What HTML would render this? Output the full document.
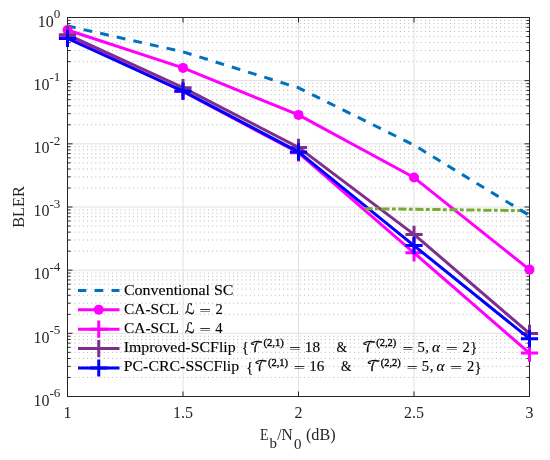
<!DOCTYPE html>
<html><head><meta charset="utf-8"><style>html,body{margin:0;padding:0;background:#fff;}svg{display:block;}.tk{font-family:"Liberation Serif","DejaVu Serif",serif;fill:#262626;}.lg{font-family:"Liberation Serif","DejaVu Serif",serif;fill:#000;}.m{font-family:"DejaVu Math TeX Gyre","Liberation Serif","DejaVu Serif",serif;}</style></head><body>
<svg width="550" height="460" viewBox="0 0 550 460">
<rect width="550" height="460" fill="#fff"/>
<g>
<path d="M67.50 61.65H529.50M67.50 50.53H529.50M67.50 42.64H529.50M67.50 36.52H529.50M67.50 31.51H529.50M67.50 27.28H529.50M67.50 23.62H529.50M67.50 20.39H529.50M67.50 124.82H529.50M67.50 113.70H529.50M67.50 105.80H529.50M67.50 99.68H529.50M67.50 94.68H529.50M67.50 90.45H529.50M67.50 86.79H529.50M67.50 83.56H529.50M67.50 187.98H529.50M67.50 176.86H529.50M67.50 168.97H529.50M67.50 162.85H529.50M67.50 157.85H529.50M67.50 153.62H529.50M67.50 149.95H529.50M67.50 146.72H529.50M67.50 251.15H529.50M67.50 240.03H529.50M67.50 232.14H529.50M67.50 226.02H529.50M67.50 221.01H529.50M67.50 216.78H529.50M67.50 213.12H529.50M67.50 209.89H529.50M67.50 314.32H529.50M67.50 303.20H529.50M67.50 295.30H529.50M67.50 289.18H529.50M67.50 284.18H529.50M67.50 279.95H529.50M67.50 276.29H529.50M67.50 273.06H529.50M67.50 377.48H529.50M67.50 366.36H529.50M67.50 358.47H529.50M67.50 352.35H529.50M67.50 347.35H529.50M67.50 343.12H529.50M67.50 339.45H529.50M67.50 336.22H529.50" stroke="#b8b8b8" stroke-width="1" stroke-dasharray="1 3.172" stroke-dashoffset="1.344" fill="none"/>
<path d="M67.50 80.67H529.50M67.50 143.83H529.50M67.50 207.00H529.50M67.50 270.17H529.50M67.50 333.33H529.50M183.00 17.50V396.50M298.50 17.50V396.50M414.00 17.50V396.50" stroke="#e0e0e0" stroke-width="1" fill="none"/>
<path d="M67.50 396.50v-5M67.50 17.50v5M183.00 396.50v-5M183.00 17.50v5M298.50 396.50v-5M298.50 17.50v5M414.00 396.50v-5M414.00 17.50v5M529.50 396.50v-5M529.50 17.50v5M67.50 17.50h5M529.50 17.50h-5M67.50 80.67h5M529.50 80.67h-5M67.50 143.83h5M529.50 143.83h-5M67.50 207.00h5M529.50 207.00h-5M67.50 270.17h5M529.50 270.17h-5M67.50 333.33h5M529.50 333.33h-5M67.50 396.50h5M529.50 396.50h-5M67.50 61.65h3M529.50 61.65h-3M67.50 50.53h3M529.50 50.53h-3M67.50 42.64h3M529.50 42.64h-3M67.50 36.52h3M529.50 36.52h-3M67.50 31.51h3M529.50 31.51h-3M67.50 27.28h3M529.50 27.28h-3M67.50 23.62h3M529.50 23.62h-3M67.50 20.39h3M529.50 20.39h-3M67.50 124.82h3M529.50 124.82h-3M67.50 113.70h3M529.50 113.70h-3M67.50 105.80h3M529.50 105.80h-3M67.50 99.68h3M529.50 99.68h-3M67.50 94.68h3M529.50 94.68h-3M67.50 90.45h3M529.50 90.45h-3M67.50 86.79h3M529.50 86.79h-3M67.50 83.56h3M529.50 83.56h-3M67.50 187.98h3M529.50 187.98h-3M67.50 176.86h3M529.50 176.86h-3M67.50 168.97h3M529.50 168.97h-3M67.50 162.85h3M529.50 162.85h-3M67.50 157.85h3M529.50 157.85h-3M67.50 153.62h3M529.50 153.62h-3M67.50 149.95h3M529.50 149.95h-3M67.50 146.72h3M529.50 146.72h-3M67.50 251.15h3M529.50 251.15h-3M67.50 240.03h3M529.50 240.03h-3M67.50 232.14h3M529.50 232.14h-3M67.50 226.02h3M529.50 226.02h-3M67.50 221.01h3M529.50 221.01h-3M67.50 216.78h3M529.50 216.78h-3M67.50 213.12h3M529.50 213.12h-3M67.50 209.89h3M529.50 209.89h-3M67.50 314.32h3M529.50 314.32h-3M67.50 303.20h3M529.50 303.20h-3M67.50 295.30h3M529.50 295.30h-3M67.50 289.18h3M529.50 289.18h-3M67.50 284.18h3M529.50 284.18h-3M67.50 279.95h3M529.50 279.95h-3M67.50 276.29h3M529.50 276.29h-3M67.50 273.06h3M529.50 273.06h-3M67.50 377.48h3M529.50 377.48h-3M67.50 366.36h3M529.50 366.36h-3M67.50 358.47h3M529.50 358.47h-3M67.50 352.35h3M529.50 352.35h-3M67.50 347.35h3M529.50 347.35h-3M67.50 343.12h3M529.50 343.12h-3M67.50 339.45h3M529.50 339.45h-3M67.50 336.22h3M529.50 336.22h-3" stroke="#262626" stroke-width="1" fill="none"/>
<rect x="67.5" y="17.5" width="462.0" height="379.0" fill="none" stroke="#262626" stroke-width="1"/>
<defs><clipPath id="cr"><rect x="512" y="195" width="30" height="30"/></clipPath></defs>
<g>
<polyline points="67.50,26.00 183.00,51.80 298.50,87.80 414.00,145.10 529.50,215.50" fill="none" stroke="#0072bd" stroke-width="3.0" stroke-linejoin="round" stroke-dasharray="8.8 8.2" stroke-dashoffset="0.5" stroke-linecap="butt"/>
<polyline points="67.50,30.00 183.00,67.90 298.50,114.90 414.00,177.55 529.50,269.60" fill="none" stroke="#ff00ff" stroke-width="3.0" stroke-linejoin="round" />
<circle cx="67.50" cy="30.00" r="5.0" fill="#ff00ff"/><circle cx="183.00" cy="67.90" r="5.0" fill="#ff00ff"/><circle cx="298.50" cy="114.90" r="5.0" fill="#ff00ff"/><circle cx="414.00" cy="177.55" r="5.0" fill="#ff00ff"/><circle cx="529.50" cy="269.60" r="5.0" fill="#ff00ff"/>
<polyline points="67.50,36.80 183.00,91.50 298.50,152.80 414.00,252.80 529.50,353.10" fill="none" stroke="#ff00ff" stroke-width="3.0" stroke-linejoin="round" />
<path d="M58.90 36.80H76.10M67.50 28.20V45.40" stroke="#ff00ff" stroke-width="3.0" fill="none"/><path d="M174.40 91.50H191.60M183.00 82.90V100.10" stroke="#ff00ff" stroke-width="3.0" fill="none"/><path d="M289.90 152.80H307.10M298.50 144.20V161.40" stroke="#ff00ff" stroke-width="3.0" fill="none"/><path d="M405.40 252.80H422.60M414.00 244.20V261.40" stroke="#ff00ff" stroke-width="3.0" fill="none"/><path d="M520.90 353.10H538.10M529.50 344.50V361.70" stroke="#ff00ff" stroke-width="3.0" fill="none"/>
<polyline points="67.50,34.70 183.00,87.70 298.50,147.40 414.00,234.40 529.50,333.40" fill="none" stroke="#7e2f8e" stroke-width="3.0" stroke-linejoin="round" />
<path d="M58.90 34.70H76.10M67.50 26.10V43.30" stroke="#7e2f8e" stroke-width="3.0" fill="none"/><path d="M174.40 87.70H191.60M183.00 79.10V96.30" stroke="#7e2f8e" stroke-width="3.0" fill="none"/><path d="M289.90 147.40H307.10M298.50 138.80V156.00" stroke="#7e2f8e" stroke-width="3.0" fill="none"/><path d="M405.40 234.40H422.60M414.00 225.80V243.00" stroke="#7e2f8e" stroke-width="3.0" fill="none"/><path d="M520.90 333.40H538.10M529.50 324.80V342.00" stroke="#7e2f8e" stroke-width="3.0" fill="none"/>
<polyline points="67.50,38.50 183.00,91.10 298.50,151.90 414.00,245.60 529.50,338.70" fill="none" stroke="#0000ff" stroke-width="3.0" stroke-linejoin="round" />
<path d="M58.90 38.50H76.10M67.50 29.90V47.10" stroke="#0000ff" stroke-width="3.0" fill="none"/><path d="M174.40 91.10H191.60M183.00 82.50V99.70" stroke="#0000ff" stroke-width="3.0" fill="none"/><path d="M289.90 151.90H307.10M298.50 143.30V160.50" stroke="#0000ff" stroke-width="3.0" fill="none"/><path d="M405.40 245.60H422.60M414.00 237.00V254.20" stroke="#0000ff" stroke-width="3.0" fill="none"/><path d="M520.90 338.70H538.10M529.50 330.10V347.30" stroke="#0000ff" stroke-width="3.0" fill="none"/>
<path d="M364.8 208.7L521 210.6" stroke="#77ac30" stroke-width="3.0" stroke-dasharray="8.2 2.5 3.7 2.6" stroke-dashoffset="0.5" fill="none"/>
<g clip-path="url(#cr)"><polyline points="67.50,26.00 183.00,51.80 298.50,87.80 414.00,145.10 529.50,215.50" fill="none" stroke="#0072bd" stroke-width="3.0" stroke-linejoin="round" stroke-dasharray="8.8 8.2" stroke-dashoffset="0.5" stroke-linecap="butt"/>
</g>
</g>
<text class="tk" transform="translate(60.4 26.70) scale(0.975 1)" font-size="16.4" text-anchor="end">10<tspan font-size="13.5" dy="-8.5">0</tspan></text>
<text class="tk" transform="translate(60.4 89.87) scale(0.975 1)" font-size="16.4" text-anchor="end">10<tspan font-size="13.5" dy="-8.5">-1</tspan></text>
<text class="tk" transform="translate(60.4 153.03) scale(0.975 1)" font-size="16.4" text-anchor="end">10<tspan font-size="13.5" dy="-8.5">-2</tspan></text>
<text class="tk" transform="translate(60.4 216.20) scale(0.975 1)" font-size="16.4" text-anchor="end">10<tspan font-size="13.5" dy="-8.5">-3</tspan></text>
<text class="tk" transform="translate(60.4 279.37) scale(0.975 1)" font-size="16.4" text-anchor="end">10<tspan font-size="13.5" dy="-8.5">-4</tspan></text>
<text class="tk" transform="translate(60.4 342.53) scale(0.975 1)" font-size="16.4" text-anchor="end">10<tspan font-size="13.5" dy="-8.5">-5</tspan></text>
<text class="tk" transform="translate(60.4 405.70) scale(0.975 1)" font-size="16.4" text-anchor="end">10<tspan font-size="13.5" dy="-8.5">-6</tspan></text>
<text class="tk" transform="translate(67.50 418.4) scale(0.975 1)" font-size="16.4" text-anchor="middle">1</text>
<text class="tk" transform="translate(183.00 418.4) scale(0.975 1)" font-size="16.4" text-anchor="middle">1.5</text>
<text class="tk" transform="translate(298.50 418.4) scale(0.975 1)" font-size="16.4" text-anchor="middle">2</text>
<text class="tk" transform="translate(414.00 418.4) scale(0.975 1)" font-size="16.4" text-anchor="middle">2.5</text>
<text class="tk" transform="translate(529.50 418.4) scale(0.975 1)" font-size="16.4" text-anchor="middle">3</text>
<text transform="translate(260.08 440.00) scale(0.7933 1)" font-family='"Liberation Serif","DejaVu Serif",serif' font-size="17.6" fill="#262626">E</text>
<text transform="translate(269.40 448.30) scale(1.0000 1)" font-family='"Liberation Serif","DejaVu Serif",serif' font-size="14.9" fill="#262626">b</text>
<text transform="translate(277.30 440.00) scale(0.8835 1)" font-family='"Liberation Serif","DejaVu Serif",serif' font-size="17.6" fill="#262626">/N</text>
<text transform="translate(293.88 448.60) scale(1.0000 1)" font-family='"Liberation Serif","DejaVu Serif",serif' font-size="14.9" fill="#262626">0</text>
<text transform="translate(305.97 440.00) scale(0.9215 1)" font-family='"Liberation Serif","DejaVu Serif",serif' font-size="17.6" fill="#262626">(dB)</text>
<text class="tk" x="0" y="0" font-size="17" text-anchor="middle" transform="translate(24.1 207) rotate(-90) scale(0.96 1)">BLER</text>
<path d="M78 290.4H119.5" stroke="#0072bd" stroke-width="3.0" stroke-dasharray="8.8 8.2" stroke-dashoffset="0.5" stroke-linecap="butt" fill="none"/>
<path d="M78 309.8H119.5" stroke="#ff00ff" stroke-width="3.0" fill="none"/><circle cx="98.75" cy="309.8" r="5.0" fill="#ff00ff"/>
<path d="M78 329.2H119.5" stroke="#ff00ff" stroke-width="3.0" fill="none"/><path d="M90.15 329.20H107.35M98.75 320.60V337.80" stroke="#ff00ff" stroke-width="3.0" fill="none"/>
<path d="M78 348.6H119.5" stroke="#7e2f8e" stroke-width="3.0" fill="none"/><path d="M90.15 348.60H107.35M98.75 340.00V357.20" stroke="#7e2f8e" stroke-width="3.0" fill="none"/>
<path d="M78 368.0H119.5" stroke="#0000ff" stroke-width="3.0" fill="none"/><path d="M90.15 368.00H107.35M98.75 359.40V376.60" stroke="#0000ff" stroke-width="3.0" fill="none"/>
<g>
<text transform="translate(123.96 294.90) scale(1.0941 1)" font-family='"Liberation Serif","DejaVu Serif",serif' font-size="14.6" fill="#000" stroke="#000" stroke-width="0.12">Conventional SC</text>
<text transform="translate(123.98 313.90) scale(1.0586 1)" font-family='"Liberation Serif","DejaVu Serif",serif' font-size="14.6" fill="#000" stroke="#000" stroke-width="0.12">CA-SCL</text>
<text transform="translate(185.07 313.90) scale(0.9132 1)" font-family='"DejaVu Sans","DejaVu Math TeX Gyre",sans-serif' font-size="14.6" fill="#000" stroke="#000" stroke-width="0.2">ℒ</text>
<text transform="translate(199.49 315.20) scale(1.5550 1)" font-family='"Liberation Serif","DejaVu Serif",serif' font-size="13" fill="#000" stroke="#000" stroke-width="0.12">=</text>
<text transform="translate(215.47 313.90) scale(1.0000 1)" font-family='"Liberation Serif","DejaVu Serif",serif' font-size="14.6" fill="#000" stroke="#000" stroke-width="0.12">2</text>
<text transform="translate(123.98 332.60) scale(1.0586 1)" font-family='"Liberation Serif","DejaVu Serif",serif' font-size="14.6" fill="#000" stroke="#000" stroke-width="0.12">CA-SCL</text>
<text transform="translate(185.07 332.60) scale(0.9132 1)" font-family='"DejaVu Sans","DejaVu Math TeX Gyre",sans-serif' font-size="14.6" fill="#000" stroke="#000" stroke-width="0.2">ℒ</text>
<text transform="translate(199.49 333.90) scale(1.5550 1)" font-family='"Liberation Serif","DejaVu Serif",serif' font-size="13" fill="#000" stroke="#000" stroke-width="0.12">=</text>
<text transform="translate(215.36 332.60) scale(1.0000 1)" font-family='"Liberation Serif","DejaVu Serif",serif' font-size="14.6" fill="#000" stroke="#000" stroke-width="0.12">4</text>
<text transform="translate(123.64 351.60) scale(1.0873 1)" font-family='"Liberation Serif","DejaVu Serif",serif' font-size="14.6" fill="#000" stroke="#000" stroke-width="0.12">Improved-SCFlip</text>
<text transform="translate(241.80 352.20) scale(1.0000 1)" font-family='"Liberation Serif","DejaVu Serif",serif' font-size="14.6" fill="#000" stroke="#000" stroke-width="0.12">{</text>
<text transform="translate(249.99 351.60) scale(0.8660 1)" font-family='"DejaVu Math TeX Gyre","DejaVu Serif","Liberation Serif",serif' font-size="14.6" fill="#000" stroke="#000" stroke-width="0.35">𝒯</text>
<text transform="translate(263.53 346.10) scale(1.0006 1)" font-family='"Liberation Serif","DejaVu Serif",serif' font-size="10.5" fill="#000" stroke="#000" stroke-width="0.35">(2,1)</text>
<text transform="translate(289.30 352.90) scale(1.5385 1)" font-family='"Liberation Serif","DejaVu Serif",serif' font-size="13" fill="#000" stroke="#000" stroke-width="0.12">=</text>
<text transform="translate(304.86 351.60) scale(1.0489 1)" font-family='"Liberation Serif","DejaVu Serif",serif' font-size="14.6" fill="#000" stroke="#000" stroke-width="0.12">18</text>
<text transform="translate(336.50 351.60) scale(0.9196 1)" font-family='"Liberation Serif","DejaVu Serif",serif' font-size="14.6" fill="#000" stroke="#000" stroke-width="0.12">&amp;</text>
<text transform="translate(362.33 351.60) scale(0.9132 1)" font-family='"DejaVu Math TeX Gyre","DejaVu Serif","Liberation Serif",serif' font-size="14.6" fill="#000" stroke="#000" stroke-width="0.35">𝒯</text>
<text transform="translate(376.33 346.10) scale(0.9902 1)" font-family='"Liberation Serif","DejaVu Serif",serif' font-size="10.5" fill="#000" stroke="#000" stroke-width="0.35">(2,2)</text>
<text transform="translate(402.45 352.90) scale(1.4557 1)" font-family='"Liberation Serif","DejaVu Serif",serif' font-size="13" fill="#000" stroke="#000" stroke-width="0.12">=</text>
<text transform="translate(417.42 351.60) scale(1.0000 1)" font-family='"Liberation Serif","DejaVu Serif",serif' font-size="14.6" fill="#000" stroke="#000" stroke-width="0.12">5</text>
<text transform="translate(425.26 351.60) scale(1.0000 1)" font-family='"Liberation Serif","DejaVu Serif",serif' font-size="14.6" fill="#000" stroke="#000" stroke-width="0.12">,</text>
<text transform="translate(432.04 351.60) scale(1.0558 1)" font-family='"Liberation Serif","DejaVu Serif",serif' font-size="14.6" font-style="italic" fill="#000" stroke="#000" stroke-width="0.12">α</text>
<text transform="translate(445.96 352.90) scale(1.6046 1)" font-family='"Liberation Serif","DejaVu Serif",serif' font-size="13" fill="#000" stroke="#000" stroke-width="0.12">=</text>
<text transform="translate(462.62 351.60) scale(1.0000 1)" font-family='"Liberation Serif","DejaVu Serif",serif' font-size="14.6" fill="#000" stroke="#000" stroke-width="0.12">2</text>
<text transform="translate(470.20 352.20) scale(1.0000 1)" font-family='"Liberation Serif","DejaVu Serif",serif' font-size="14.6" fill="#000" stroke="#000" stroke-width="0.12">}</text>
<text transform="translate(123.72 371.10) scale(1.0864 1)" font-family='"Liberation Serif","DejaVu Serif",serif' font-size="14.6" fill="#000" stroke="#000" stroke-width="0.12">PC-CRC-SSCFlip</text>
<text transform="translate(246.20 371.70) scale(1.0000 1)" font-family='"Liberation Serif","DejaVu Serif",serif' font-size="14.6" fill="#000" stroke="#000" stroke-width="0.12">{</text>
<text transform="translate(254.39 371.10) scale(0.8660 1)" font-family='"DejaVu Math TeX Gyre","DejaVu Serif","Liberation Serif",serif' font-size="14.6" fill="#000" stroke="#000" stroke-width="0.35">𝒯</text>
<text transform="translate(267.93 365.60) scale(1.0006 1)" font-family='"Liberation Serif","DejaVu Serif",serif' font-size="10.5" fill="#000" stroke="#000" stroke-width="0.35">(2,1)</text>
<text transform="translate(293.70 372.40) scale(1.5385 1)" font-family='"Liberation Serif","DejaVu Serif",serif' font-size="13" fill="#000" stroke="#000" stroke-width="0.12">=</text>
<text transform="translate(309.27 371.10) scale(1.0400 1)" font-family='"Liberation Serif","DejaVu Serif",serif' font-size="14.6" fill="#000" stroke="#000" stroke-width="0.12">16</text>
<text transform="translate(340.90 371.10) scale(0.9196 1)" font-family='"Liberation Serif","DejaVu Serif",serif' font-size="14.6" fill="#000" stroke="#000" stroke-width="0.12">&amp;</text>
<text transform="translate(366.73 371.10) scale(0.9132 1)" font-family='"DejaVu Math TeX Gyre","DejaVu Serif","Liberation Serif",serif' font-size="14.6" fill="#000" stroke="#000" stroke-width="0.35">𝒯</text>
<text transform="translate(380.73 365.60) scale(0.9902 1)" font-family='"Liberation Serif","DejaVu Serif",serif' font-size="10.5" fill="#000" stroke="#000" stroke-width="0.35">(2,2)</text>
<text transform="translate(406.85 372.40) scale(1.4557 1)" font-family='"Liberation Serif","DejaVu Serif",serif' font-size="13" fill="#000" stroke="#000" stroke-width="0.12">=</text>
<text transform="translate(421.82 371.10) scale(1.0000 1)" font-family='"Liberation Serif","DejaVu Serif",serif' font-size="14.6" fill="#000" stroke="#000" stroke-width="0.12">5</text>
<text transform="translate(429.66 371.10) scale(1.0000 1)" font-family='"Liberation Serif","DejaVu Serif",serif' font-size="14.6" fill="#000" stroke="#000" stroke-width="0.12">,</text>
<text transform="translate(436.44 371.10) scale(1.0558 1)" font-family='"Liberation Serif","DejaVu Serif",serif' font-size="14.6" font-style="italic" fill="#000" stroke="#000" stroke-width="0.12">α</text>
<text transform="translate(450.36 372.40) scale(1.6046 1)" font-family='"Liberation Serif","DejaVu Serif",serif' font-size="13" fill="#000" stroke="#000" stroke-width="0.12">=</text>
<text transform="translate(467.02 371.10) scale(1.0000 1)" font-family='"Liberation Serif","DejaVu Serif",serif' font-size="14.6" fill="#000" stroke="#000" stroke-width="0.12">2</text>
<text transform="translate(474.60 371.70) scale(1.0000 1)" font-family='"Liberation Serif","DejaVu Serif",serif' font-size="14.6" fill="#000" stroke="#000" stroke-width="0.12">}</text>
</g>
</g>
</svg>
</body></html>
